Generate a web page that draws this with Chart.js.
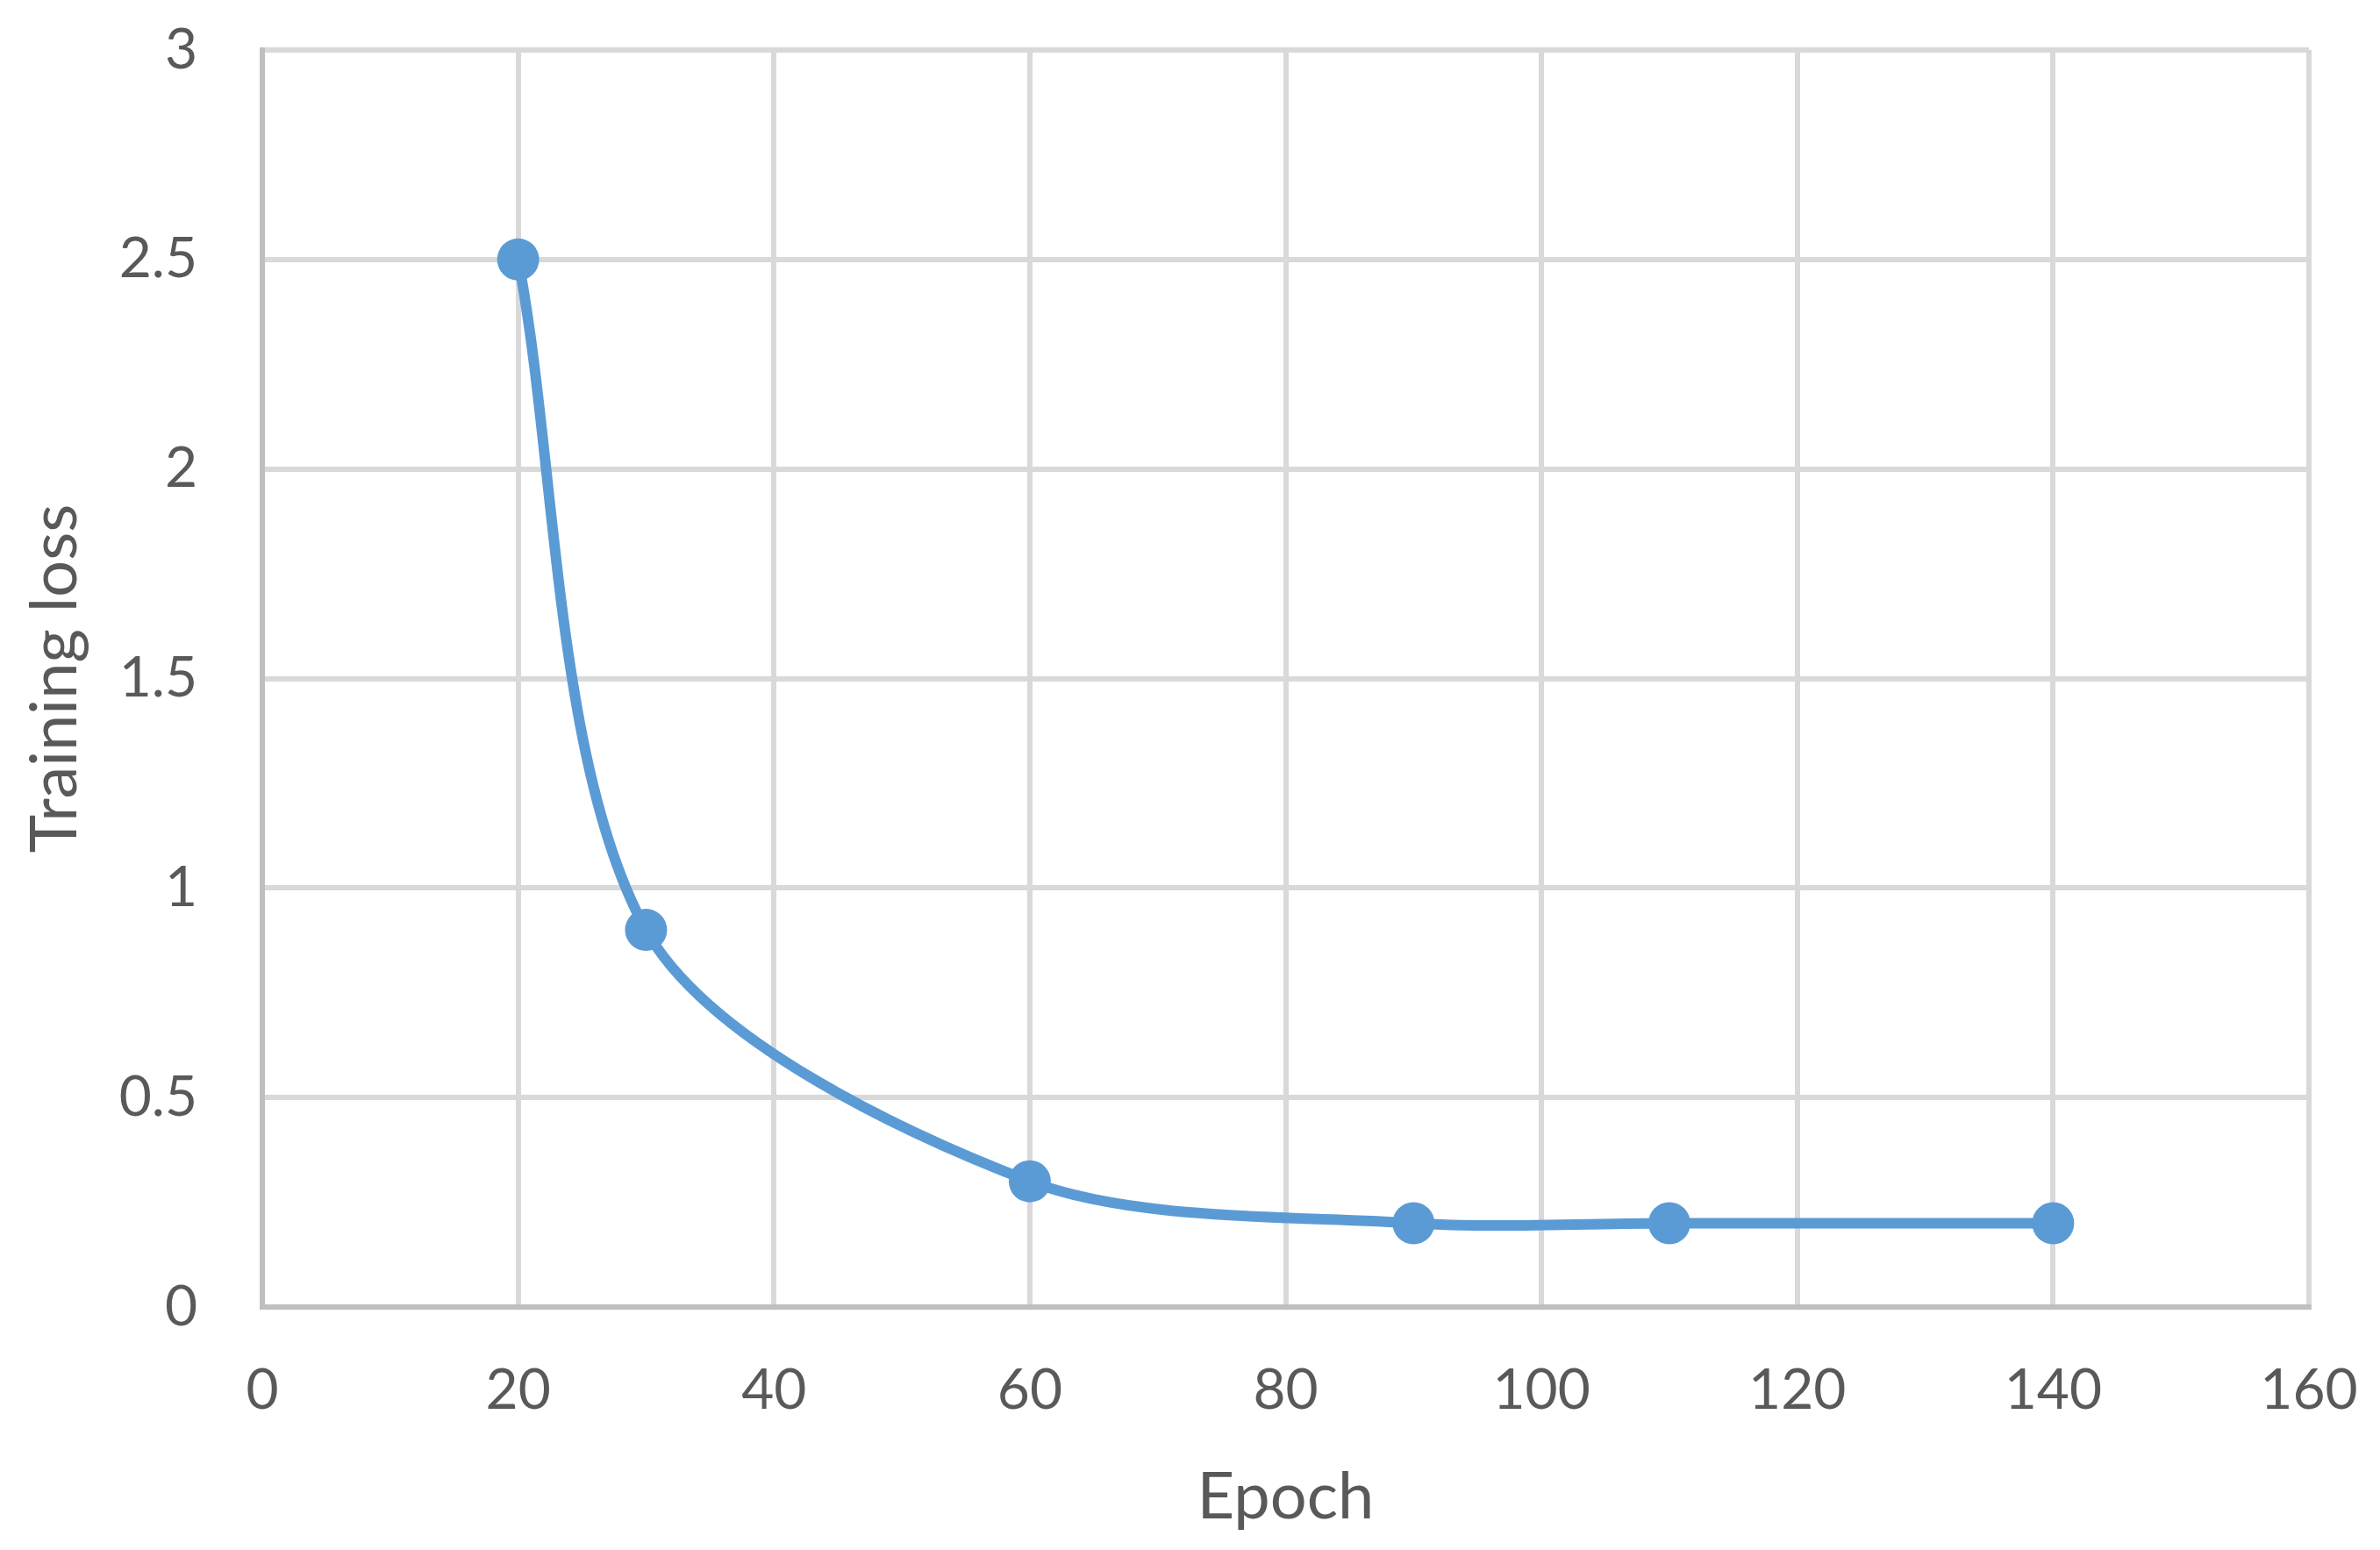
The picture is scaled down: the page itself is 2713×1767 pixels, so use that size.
<!DOCTYPE html>
<html>
<head>
<meta charset="utf-8">
<script src="https://cdn.jsdelivr.net/npm/chart.js@4/dist/chart.umd.min.js"></script>
<style>
html,body{margin:0;padding:0;background:#fff;}
#wrap{width:2713px;height:1767px;position:relative;}
</style>
</head>
<body>
<div id="wrap"><canvas id="c" width="2713" height="1767"></canvas></div>
<script>
const epochs = [20, 30, 60, 90, 110, 140];
const trainingLoss = [2.5, 0.9, 0.3, 0.2, 0.2, 0.2];
const xTickRange = [0, 160, 20];
const yTickRange = [0, 3, 0.5];
const xTitle = 'Epoch';
const yTitle = 'Training loss';

const points = epochs.map((x, i) => ({x: x, y: trainingLoss[i]}));
const FONT = 'Lato, "Open Sans", sans-serif';
const TEXT = '#595959';
const fmt = v => String(Number(Number(v).toFixed(2)));

new Chart(document.getElementById('c'), {
  type: 'line',
  data: {
    datasets: [{
      data: points,
      borderColor: '#5b9bd5',
      backgroundColor: '#5b9bd5',
      borderWidth: 12,
      pointRadius: 24,
      pointBorderWidth: 0,
      pointBackgroundColor: '#5b9bd5',
      tension: 0.3,
      fill: false
    }]
  },
  options: {
    responsive: false,
    animation: false,
    devicePixelRatio: 1,
    layout: {padding: {top: 57, right: 81, bottom: 0, left: 0}},
    plugins: {legend: {display: false}, tooltip: {enabled: false}},
    scales: {
      x: {
        type: 'linear',
        min: xTickRange[0], max: xTickRange[1],
        ticks: {stepSize: xTickRange[2], color: TEXT, font: {family: FONT, size: 64}, padding: 57, callback: fmt},
        grid: {color: '#d9d9d9', lineWidth: 6, drawTicks: false},
        border: {color: '#bfbfbf', width: 6},
        title: {display: true, text: xTitle, color: TEXT, font: {family: FONT, size: 74}, padding: {top: 0, bottom: 15}},
        afterFit: s => { s.height = 277; s.paddingLeft = 0; s.paddingRight = 0; }
      },
      y: {
        type: 'linear',
        min: yTickRange[0], max: yTickRange[1],
        ticks: {stepSize: yTickRange[2], color: TEXT, font: {family: FONT, size: 64}, padding: 74, callback: fmt},
        grid: {color: '#d9d9d9', lineWidth: 6, drawTicks: false},
        border: {color: '#bfbfbf', width: 6},
        title: {display: true, text: yTitle, color: TEXT, font: {family: FONT, size: 74}, padding: {top: 19, bottom: 0}},
        afterFit: s => { s.width = 299; s.paddingTop = 0; s.paddingBottom = 0; }
      }
    }
  }
});
</script>
</body>
</html>
